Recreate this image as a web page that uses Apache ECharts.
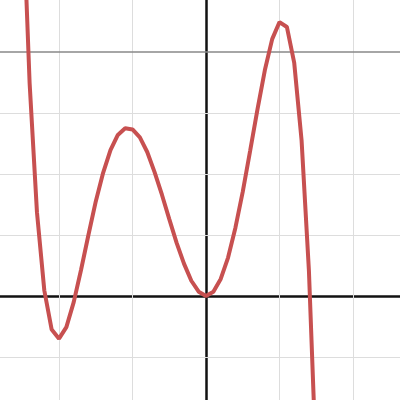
<!DOCTYPE html>
<html>
<head>
<meta charset="utf-8">
<script src="https://cdn.jsdelivr.net/npm/echarts@6/dist/echarts.min.js"></script>
<style>html,body{margin:0;padding:0;background:#fff}#c{width:400px;height:400px}</style>
</head>
<body>
<div id="c"></div>
<script>
// points
var xs = [-2.5,-2.4,-2.3,-2.2,-2.1,-2.0,-1.9,-1.8,-1.7,-1.6,-1.5,-1.4,-1.3,-1.2,-1.1,-1.0,-0.9,-0.8,-0.7,-0.6,-0.5,-0.4,-0.3,-0.2,-0.1,0,0.1,0.2,0.3,0.4,0.5,0.6,0.7,0.8,0.9,1.0,1.1,1.2,1.3,1.4,1.5];
var ys = [6.66,3.49,1.37,0.09,-0.55,-0.70,-0.51,-0.10,0.43,1.00,1.55,2.02,2.39,2.64,2.75,2.73,2.60,2.36,2.03,1.66,1.26,0.87,0.53,0.25,0.07,0,0.07,0.28,0.63,1.12,1.71,2.38,3.06,3.70,4.21,4.49,4.41,3.82,2.55,0.41,-2.82];
var gridX = [-2, -1, 1, 2];
var gridY = [-1, 1, 2, 3];
var refLine = 4;

var chart = echarts.init(document.getElementById('c'));
var pts = xs.map(function (x, i) { return [x, ys[i]]; });
var lines = gridX.map(function (v) { return { xAxis: v }; })
    .concat(gridY.map(function (v) { return { yAxis: v }; }));
chart.setOption({
    animation: false,
    grid: { left: 0, right: 0, top: 0, bottom: 0 },
    xAxis: {
        type: 'value', min: -2.803, max: 2.639,
        axisLine: { onZero: true, lineStyle: { color: '#111', width: 2.5 } },
        axisTick: { show: false }, axisLabel: { show: false },
        splitLine: { show: false }
    },
    yAxis: {
        type: 'value', min: -1.705, max: 4.852,
        axisLine: { onZero: true, lineStyle: { color: '#111', width: 2.5 } },
        axisTick: { show: false }, axisLabel: { show: false },
        splitLine: { show: false }
    },
    series: [{
        type: 'line', data: [], silent: true,
        markLine: {
            silent: true, symbol: 'none', label: { show: false },
            lineStyle: { color: '#ddd', type: 'solid', width: 1 },
            data: lines
        }
    }, {
        type: 'line', data: pts, smooth: false, showSymbol: false,
        lineStyle: { color: '#c75050', width: 4 },
        markLine: {
            silent: true, symbol: 'none', label: { show: false },
            lineStyle: { color: '#888', type: 'solid', width: 1.5 },
            data: [{ yAxis: refLine }]
        },
        z: 5
    }]
});
</script>
</body>
</html>
